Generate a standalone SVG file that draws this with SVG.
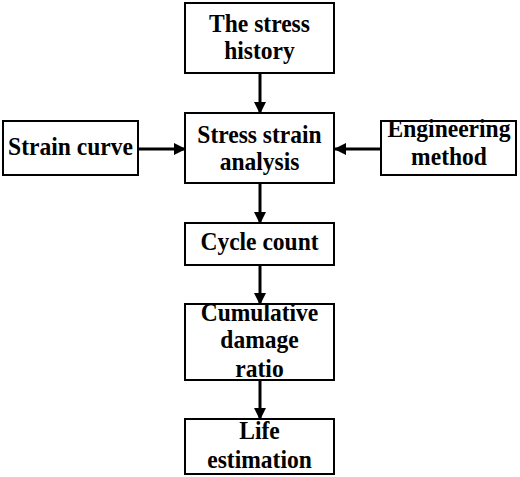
<svg xmlns="http://www.w3.org/2000/svg" width="520" height="477" viewBox="0 0 520 477">
<style>
.box{fill:#fff;stroke:#000;stroke-width:2}
.t{font-family:"Liberation Serif","Times New Roman",serif;font-weight:bold;font-size:26px;text-anchor:middle;fill:#000}
.c{stroke:#000;stroke-width:3;fill:none;marker-end:url(#ah)}
</style>
<defs>
<marker id="ah" markerWidth="12" markerHeight="12" refX="11" refY="6" orient="auto" markerUnits="userSpaceOnUse">
<path d="M0,0 L12,6 L0,12 Z" fill="#000"/>
</marker>
</defs>
<rect width="520" height="477" fill="#fff"/>
<g id="connectors">
<line class="c" x1="260" y1="73" x2="260" y2="113"/>
<line class="c" x1="138" y1="149" x2="185" y2="149"/>
<line class="c" x1="381" y1="149" x2="335" y2="149"/>
<line class="c" x1="260" y1="183" x2="260" y2="223"/>
<line class="c" x1="260" y1="265" x2="260" y2="304"/>
<line class="c" x1="260" y1="380" x2="260" y2="419"/>
</g>
<g id="stress-history">
<rect class="box" x="185" y="3" width="149" height="70"/>
<text class="t" transform="matrix(0.905,0,0,1,259.5,0)" y="32">The stress</text>
<text class="t" transform="matrix(0.905,0,0,1,259.5,0)" y="59">history</text>
</g>
<g id="stress-strain">
<rect class="box" x="185" y="113" width="149" height="70"/>
<text class="t" transform="matrix(0.905,0,0,1,259.5,0)" y="143">Stress strain</text>
<text class="t" transform="matrix(0.905,0,0,1,259.5,0)" y="170">analysis</text>
</g>
<g id="strain-curve">
<rect class="box" x="3" y="121" width="135" height="54"/>
<text class="t" transform="matrix(0.905,0,0,1,70.5,0)" y="155">Strain curve</text>
</g>
<g id="engineering">
<rect class="box" x="381" y="121" width="135" height="54"/>
<text class="t" transform="matrix(0.905,0,0,1,449,0)" y="137">Engineering</text>
<text class="t" transform="matrix(0.905,0,0,1,449,0)" y="165">method</text>
</g>
<g id="cycle-count">
<rect class="box" x="185" y="223" width="149" height="42"/>
<text class="t" transform="matrix(0.905,0,0,1,259.5,0)" y="250">Cycle count</text>
</g>
<g id="cumulative">
<rect class="box" x="185" y="304" width="149" height="76"/>
<text class="t" transform="matrix(0.905,0,0,1,259.5,0)" y="321">Cumulative</text>
<text class="t" transform="matrix(0.905,0,0,1,259.5,0)" y="348">damage</text>
<text class="t" transform="matrix(0.905,0,0,1,259.5,0)" y="377">ratio</text>
</g>
<g id="life">
<rect class="box" x="185" y="419" width="149" height="55"/>
<text class="t" transform="matrix(0.905,0,0,1,259.5,0)" y="439">Life</text>
<text class="t" transform="matrix(0.905,0,0,1,259.5,0)" y="468">estimation</text>
</g>
</svg>
